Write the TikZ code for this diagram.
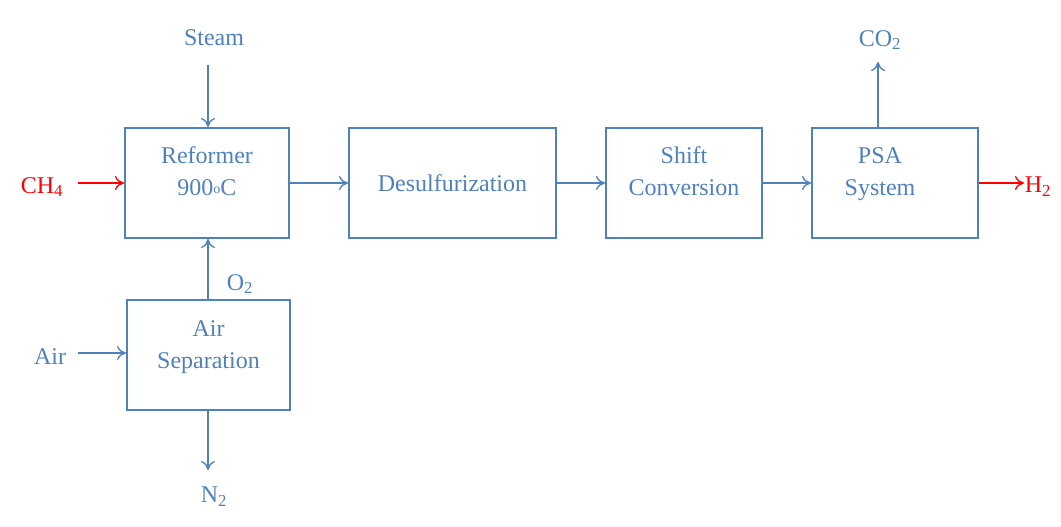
\documentclass[tikz,border=0pt]{standalone}
\usepackage{fontspec}
\setmainfont{Liberation Serif}
\usetikzlibrary{arrows.meta}
\begin{document}
\definecolor{bl}{RGB}{79,129,189}
\begin{tikzpicture}[x=1pt,y=-1pt,
  box/.style={draw=bl,line width=2pt,inner sep=0pt},
  txt/.style={text=bl,align=center,inner sep=0pt,font=\fontsize{24}{32}\selectfont},
  lbl/.style={text=bl,inner sep=1pt,font=\fontsize{24}{30}\selectfont},
  rlbl/.style={lbl,text=red},
  arr/.style={draw=bl,line width=1.3pt,-{To[length=9pt,width=14pt]}},
  rarr/.style={arr,draw=red}]
\useasboundingbox (0,0) rectangle (1061,527);
\node[box,minimum width=164,minimum height=110] (ref) at (207,183) {};
\node[box,minimum width=207,minimum height=110] (des) at (452.5,183) {};
\node[box,minimum width=156,minimum height=110] (shi) at (684,183) {};
\node[box,minimum width=166,minimum height=110] (psa) at (895,183) {};
\node[box,minimum width=163,minimum height=110] (air) at (208.5,355) {};
\node[txt] (reft) at (207,171) {Reformer\\900{\raisebox{2pt}{\fontsize{14}{14}\selectfont o}}C};
\node[txt] (dest) at (452.5,183) {Desulfurization};
\node[txt] (shit) at (684,171) {Shift\\Conversion};
\node[txt] (psat) at (880,174) {PSA\\System};
\node[txt] (airt) at (208.5,347) {Air\\Separation};
\node[lbl] (steam) at (214,38) {Steam};
\node[lbl] (co2) at (880,40) {CO\textsubscript{2}};
\node[rlbl] (ch4) at (42,187) {CH\textsubscript{4}};
\node[rlbl] (h2) at (1038,187) {H\textsubscript{2}};
\node[lbl] (airin) at (50,357) {Air};
\node[lbl] (n2) at (214,497) {N\textsubscript{2}};
\node[lbl] (o2) at (240,284) {O\textsubscript{2}};
\coordinate (s0) at (208,65);
\coordinate (c0) at (878,62);
\coordinate (n0) at (208,470);
\coordinate (ch4e) at (78,183);
\coordinate (h2w) at (1024,183);
\coordinate (ae) at (78,353);
\draw[arr] (s0) -- (s0 |- ref.north);
\draw[rarr] (ch4e) -- (ch4e -| ref.west);
\draw[arr] (ref.east) -- (des.west);
\draw[arr] (des.east) -- (shi.west);
\draw[arr] (shi.east) -- (psa.west);
\draw[rarr] (psa.east) -- (h2w);
\draw[arr] (psa.north -| c0) -- (c0);
\draw[arr] (ae) -- (ae -| air.west);
\draw[arr] (air.north -| s0) -- (ref.south -| s0);
\draw[arr] (air.south -| s0) -- (n0);
\end{tikzpicture}
\end{document}
